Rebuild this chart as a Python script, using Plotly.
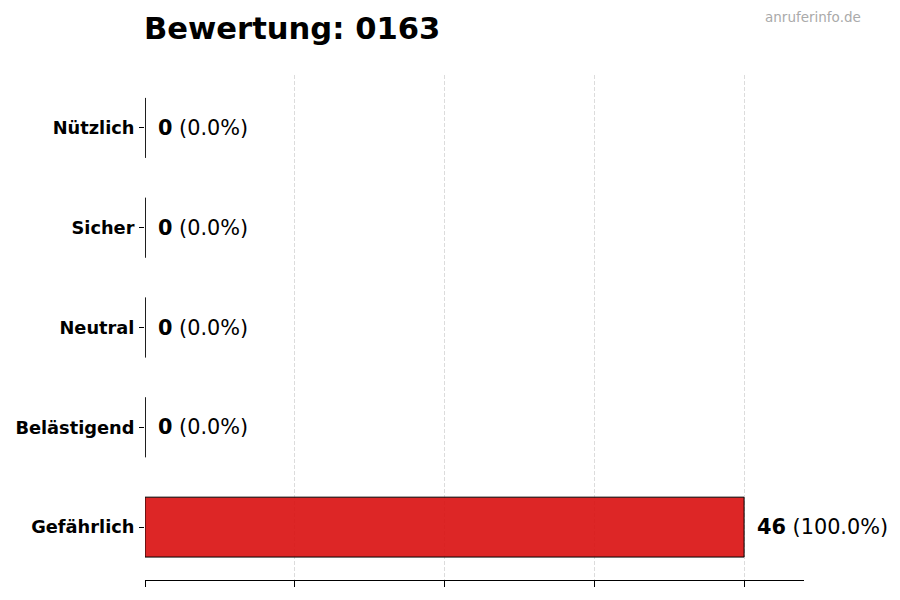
import plotly.graph_objects as go

categories = ["Nützlich", "Sicher", "Neutral", "Belästigend", "Gefährlich"]
counts = [0, 0, 0, 0, 46]
title_text = "Bewertung: 0163"
watermark = "anruferinfo.de"

n = len(categories)
total = sum(counts)
ypos = [n - 1 - i for i in range(n)]
vmax = max(counts)
FONT = "DejaVu Sans"

fig = go.Figure()
fig.add_trace(go.Bar(
    x=counts, y=ypos, orientation="h", width=0.6,
    marker=dict(color="rgba(217,14,14,0.9)", line=dict(color="black", width=1)),
    hoverinfo="skip",
))

shapes = []
annotations = []
for c, v, y in zip(categories, counts, ypos):
    if v == 0:
        shapes.append(dict(type="line", xref="x", yref="y", x0=0, x1=0,
                           y0=y - 0.3, y1=y + 0.3, line=dict(color="black", width=1)))
    pct = v / total * 100 if total else 0
    annotations.append(dict(
        x=v, y=y, xref="x", yref="y", xanchor="left", yanchor="middle",
        xshift=11, showarrow=False,
        text=f"<b>{v}</b> ({pct:.1f}%)",
        font=dict(family=FONT, size=20.8, color="black"),
    ))

annotations.append(dict(
    text=f"<b>{title_text}</b>", xref="paper", yref="paper", x=0, y=1,
    xanchor="left", yanchor="bottom", yshift=27, xshift=-3, showarrow=False,
    font=dict(family=FONT, size=30.6, color="black"),
))
annotations.append(dict(
    text=watermark, xref="paper", yref="paper", x=1, y=1,
    xanchor="center", yanchor="middle", xshift=9, yshift=58, showarrow=False,
    font=dict(family=FONT, size=13.5, color="#aaaaaa"),
))

fig.update_layout(
    width=900, height=600,
    margin=dict(l=145, r=96, t=75, b=20),
    plot_bgcolor="white", paper_bgcolor="white",
    showlegend=False,
    shapes=shapes, annotations=annotations,
    xaxis=dict(
        range=[0, vmax * 1.1],
        tickvals=[vmax * k / 4 for k in range(5)],
        showticklabels=False,
        ticks="outside", ticklen=6, tickcolor="black", tickwidth=1,
        showgrid=True, gridcolor="#dcdcdc", griddash="4px,2px", gridwidth=1,
        zeroline=False,
        showline=True, linecolor="black", linewidth=1,
    ),
    yaxis=dict(
        range=[-0.53, n - 1 + 0.53],
        tickvals=ypos, ticktext=categories,
        tickfont=dict(family=FONT, size=17.8, color="black", weight="bold"),
        ticks="outside", ticklen=5, tickcolor="black", tickwidth=1,
        ticklabelstandoff=1,
        showgrid=False, zeroline=False, showline=False,
    ),
)

fig.write_html("out.html")
